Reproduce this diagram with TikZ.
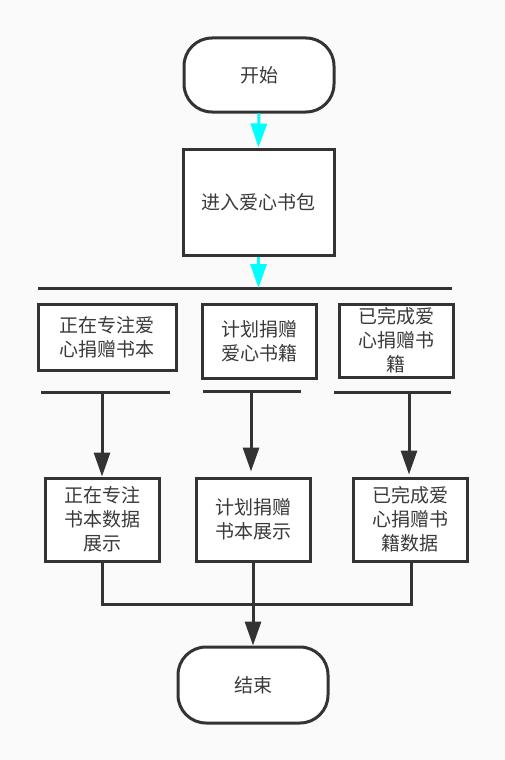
\documentclass[tikz,border=0pt]{standalone}
\usepackage{fontspec}
\newfontfamily\cjk{Noto Sans CJK SC}
\usetikzlibrary{arrows.meta,calc}
\definecolor{ink}{HTML}{333333}
\definecolor{txt}{HTML}{3A3A3A}
\definecolor{bg}{HTML}{FAFAFA}
\definecolor{cy}{HTML}{00FFFF}
\begin{document}
\begin{tikzpicture}[x=1pt,y=-1pt,
  every node/.style={font=\cjk\fontsize{19}{24}\selectfont, text=txt, align=center, inner sep=0pt},
  box/.style={draw=ink, line width=3pt, fill=white},
  term/.style={box, rounded corners=28pt},
  ln/.style={draw=ink, line width=3pt},
  arr/.style={ln, -{Triangle[width=16pt,length=24pt]}},
  carr/.style={draw=cy, line width=3pt, -{Triangle[width=16pt,length=24pt]}}]
\fill[bg] (0,0) rectangle (505,760);
\useasboundingbox (0,0) rectangle (505,760);

\node[term, minimum width=150pt, minimum height=74pt] (start) at (259,75) {开始};
\node[box, minimum width=151pt, minimum height=106pt] (enter) at (258.5,202) {进入爱心书包};

\coordinate (barL) at (38,288);
\coordinate (barR) at (452,288);
\draw[ln] (barL) -- (barR);

\node[box, minimum width=138pt, minimum height=66pt] (A) at (107,337) {正在专注爱\\心捐赠书本};
\node[box, minimum width=114pt, minimum height=74pt] (B) at (259,341) {计划捐赠\\爱心书籍};
\node[box, minimum width=114pt, minimum height=73pt] (C) at (396,340.5) {已完成爱\\心捐赠书\\籍};

\coordinate (aL) at (41,392); \coordinate (aR) at (170,392);
\coordinate (bL) at (203,391); \coordinate (bR) at (301,391);
\coordinate (cL) at (334,392); \coordinate (cR) at (451,392);
\draw[ln] (aL) -- (aR);
\draw[ln] (bL) -- (bR);
\draw[ln] (cL) -- (cR);

\node[box, minimum width=114pt, minimum height=83pt] (D) at (102,519.5) {正在专注\\书本数据\\展示};
\node[box, minimum width=114pt, minimum height=83pt] (E) at (253,519.5) {计划捐赠\\书本展示};
\node[box, minimum width=114pt, minimum height=83pt] (F) at (410,519.5) {已完成爱\\心捐赠书\\籍数据};

\node[term, minimum width=150pt, minimum height=76pt] (end) at (253,685) {结束};

\draw[carr] (start.south) -- (enter.north);
\draw[carr] (enter.south) -- (enter.south |- barL);

\coordinate (aT) at (102,392);
\coordinate (bT) at (251,391);
\coordinate (cT) at (409,392);
\draw[arr] (aT) -- (aT |- D.north);
\draw[arr, shorten >=5pt] (bT) -- (bT |- E.north);
\draw[arr, shorten >=2pt] (cT) -- (cT |- F.north);

\coordinate (m) at (102,604);
\draw[ln] (D.south) -- (m) -- (m -| 411,0) -- (411,561);
\draw[arr] (E.south) -- (end.north);
\end{tikzpicture}
\end{document}
